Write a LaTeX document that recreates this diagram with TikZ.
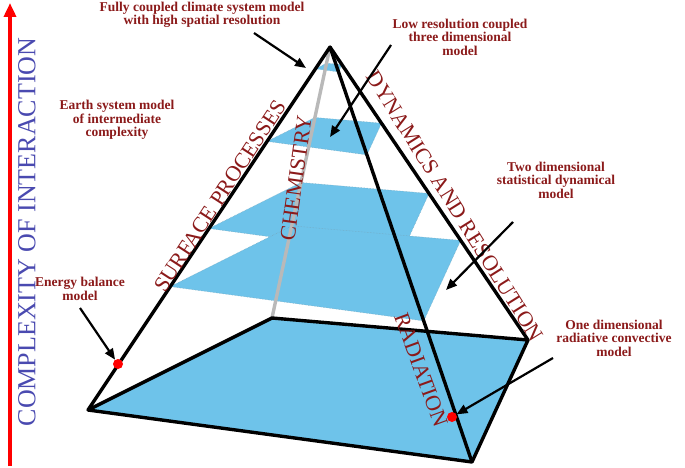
\documentclass[tikz,border=0pt]{standalone}
\usepackage{fontspec}
\setmainfont{Liberation Serif}
\usetikzlibrary{arrows.meta,calc}
\definecolor{dred}{HTML}{8B1A1A}
\definecolor{sky}{HTML}{6EC3EA}
\definecolor{axblue}{HTML}{4A4AB0}
\begin{document}
\begin{tikzpicture}[x=1pt,y=-1pt,
  ann/.style={text=dred,font=\bfseries\fontsize{13.5}{13.5}\selectfont,align=center},
  side/.style={text=dred,font=\fontsize{22}{22}\selectfont,inner sep=0pt},
  ptr/.style={-{Triangle[length=11pt,width=9pt]},line width=2.2pt},
  edge/.style={line width=3.4pt,line join=round},
  slice/.style={fill=sky,draw=sky!60!gray,densely dotted,line width=0.5pt}]
\useasboundingbox (0,0) rectangle (685,468);
\coordinate (A) at (330,47);
\coordinate (FL) at (88,410);
\coordinate (BL) at (272,318);
\coordinate (BR) at (528,340);
\coordinate (FR) at (472,462);
\fill[sky] (FL)--(BL)--(BR)--(FR)--cycle;
\foreach \t in {0.06,0.26,0.5,0.66}{
  \path[slice] ($(A)!\t!(FL)$)--($(A)!\t!(BL)$)--($(A)!\t!(BR)$)--($(A)!\t!(FR)$)--cycle;
}
\draw[line width=3.4pt,gray!55] (A)--(BL);
\draw[edge] (FL)--(BL)--(BR)--(FR)--cycle;
\draw[edge] (FL)--(A)--(FR);
\draw[edge] (A)--(BR);
\node[side,rotate=57] (sp) at (220,196) {SURFACE PROCESSES};
\node[side,rotate=82] (ch) at (296,178) {CHEMISTRY};
\node[side,rotate=-58] (dr) at (455,206) {DYNAMICS AND RESOLUTION};
\node[side,rotate=-70] (ra) at (421,370) {RADIATION};
\coordinate (ax0) at (10,466);
\coordinate (ax1) at (10,3);
\draw[red,line width=3.5pt,-{Triangle[length=14pt,width=12pt]}] (ax0)--(ax1);
\node[text=axblue,rotate=90,font=\fontsize{26}{26}\selectfont,inner sep=0pt] (axl) at (27,232) {COMPLEXITY OF INTERACTION};
\node[ann] (t1) at (202,15) {Fully coupled climate system model\\with high spatial resolution};
\coordinate (s1) at (254,33);
\coordinate (p1) at (306,68);
\draw[ptr] (s1)--(p1);
\node[ann] (t2) at (460,37) {Low resolution coupled\\three dimensional\\model};
\coordinate (s2) at (391,45);
\coordinate (p2) at (330,137);
\draw[ptr] (s2)--(p2);
\node[ann] (t3) at (117,120) {Earth system model\\of intermediate\\complexity};
\node[ann] (t4) at (556,180) {Two dimensional\\statistical dynamical\\model};
\coordinate (s4) at (513,222);
\coordinate (p4) at (446,290);
\draw[ptr] (s4)--(p4);
\node[ann] (t5) at (80,289) {Energy balance\\model};
\node[circle,fill=red,inner sep=0pt,minimum size=10pt] (d5) at (118,364) {};
\coordinate (s5) at (80,308);
\draw[ptr] (s5)--(d5);
\node[ann] (t6) at (614,338) {One dimensional\\radiative convective\\model};
\node[circle,fill=red,inner sep=0pt,minimum size=10pt] (d6) at (452,417) {};
\coordinate (s6) at (553,358);
\draw[ptr] (s6)--(d6);
\end{tikzpicture}
\end{document}
